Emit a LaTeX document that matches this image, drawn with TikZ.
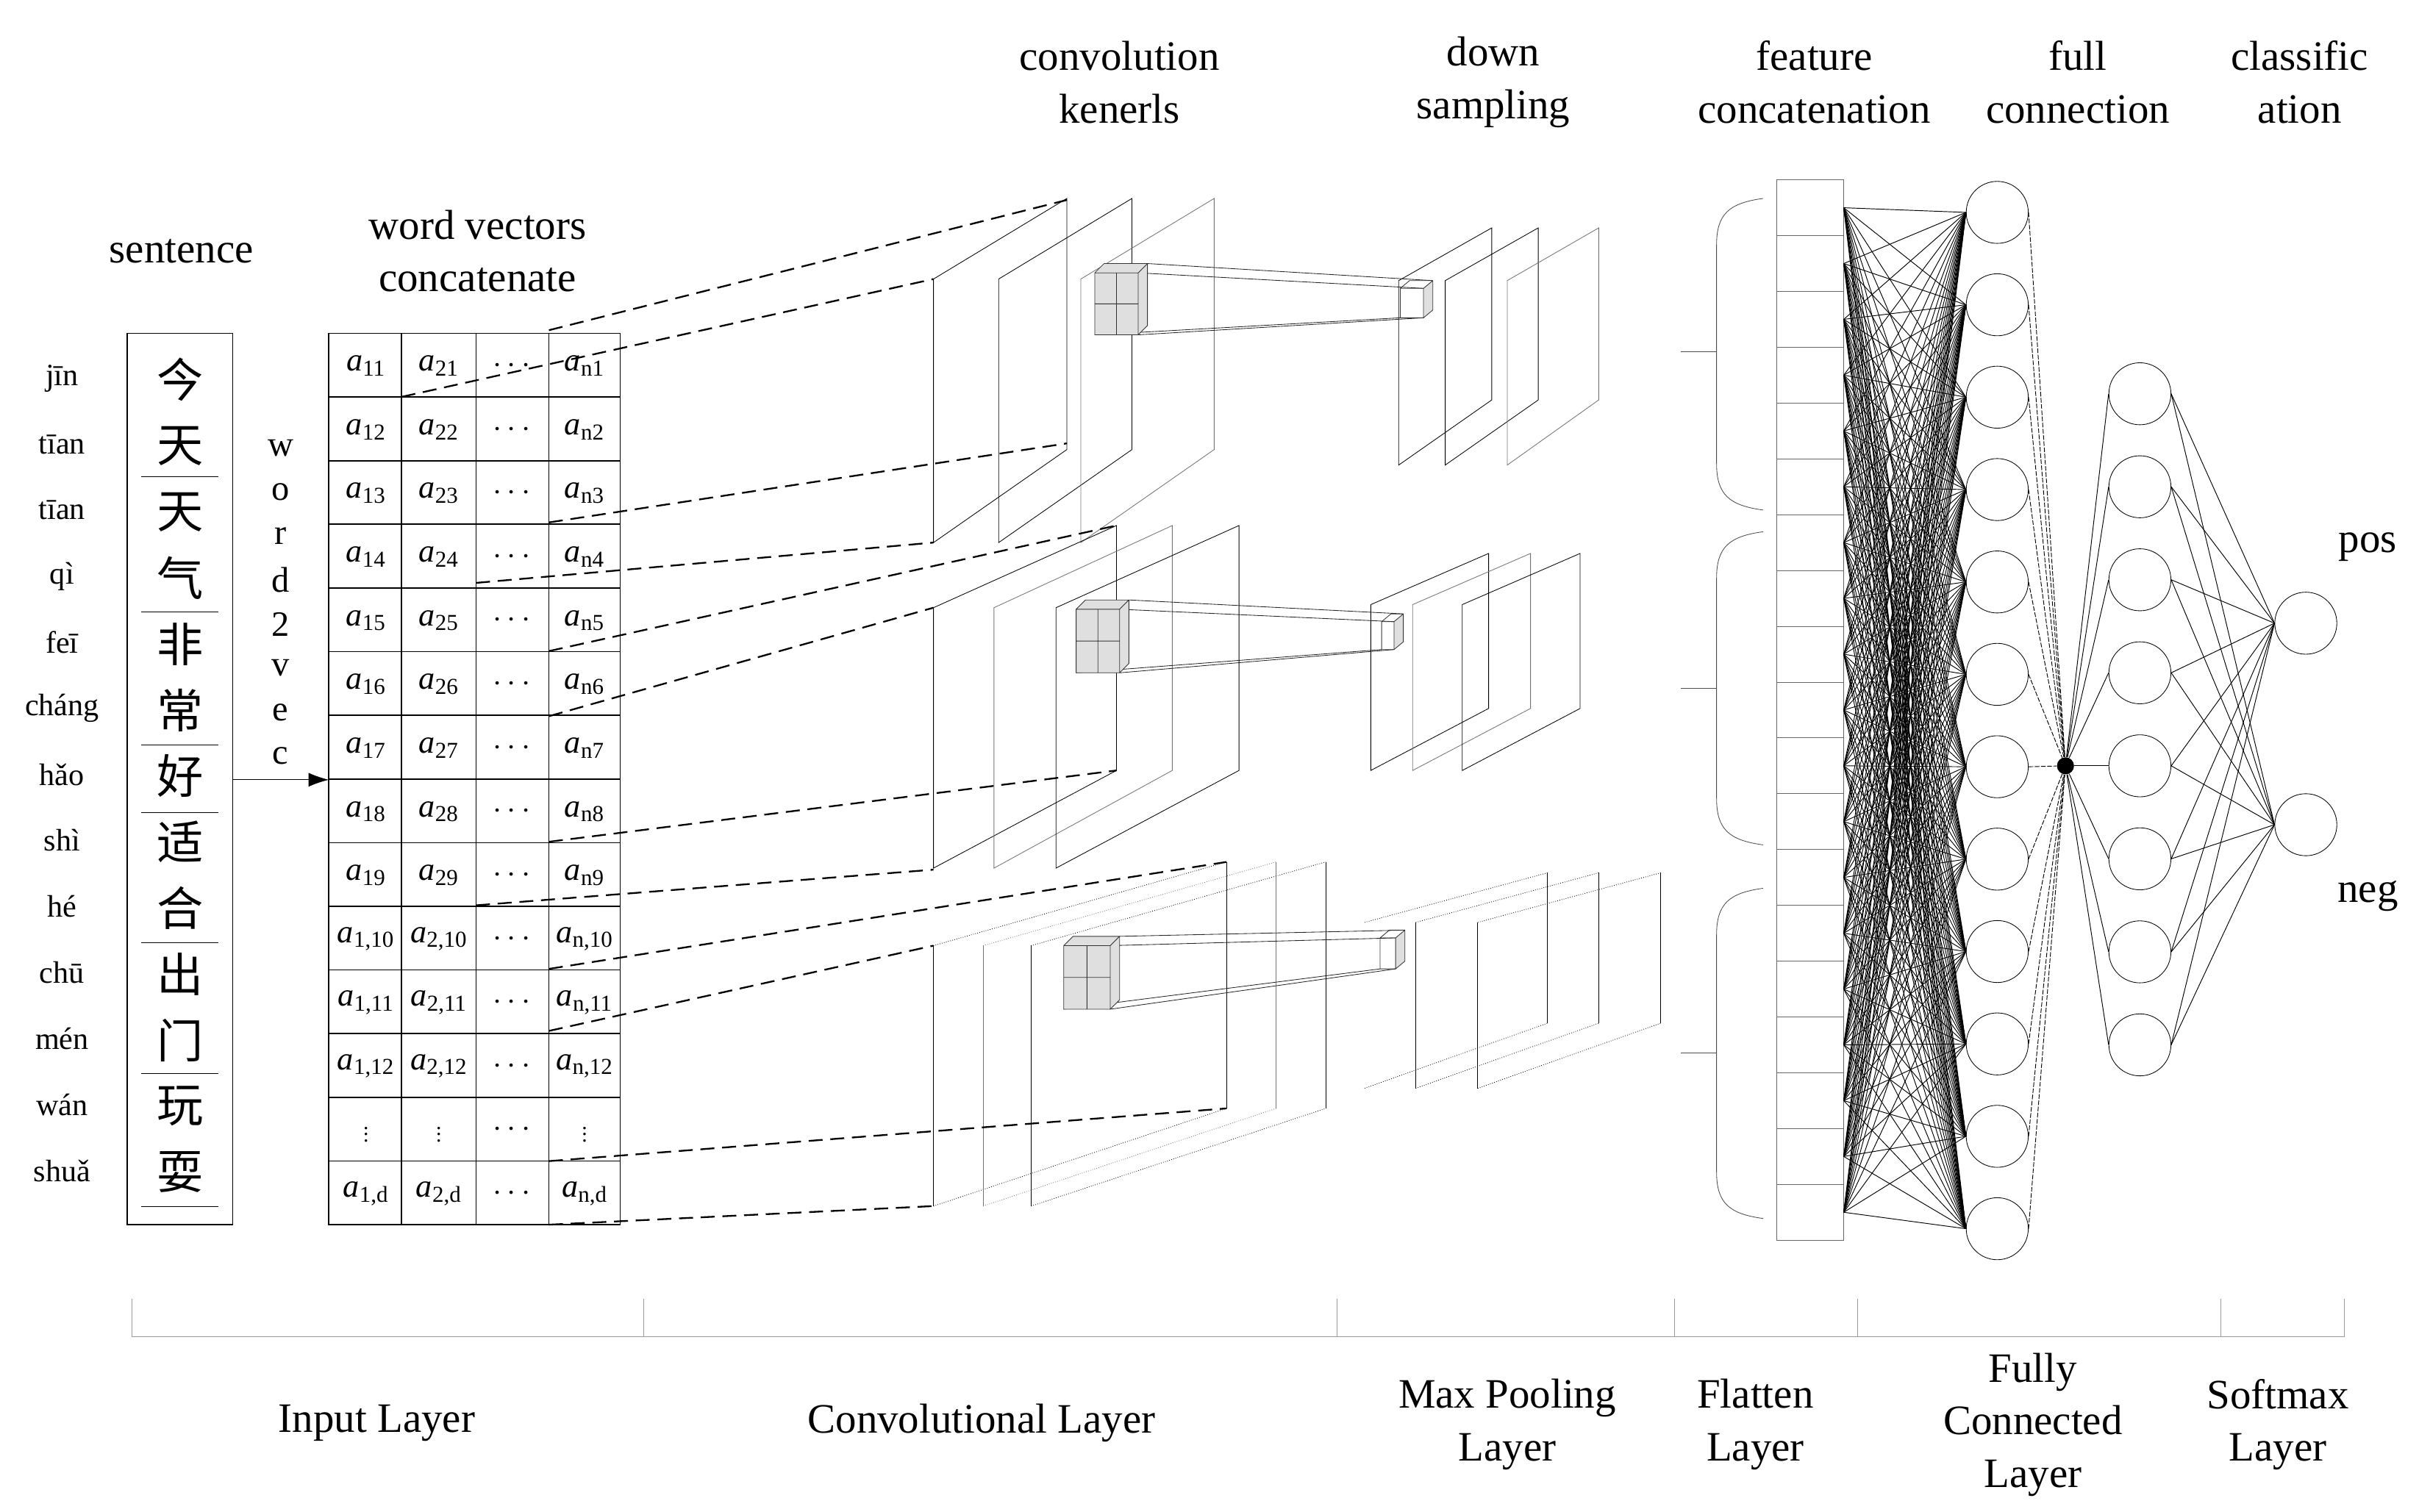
\documentclass[tikz,border=0pt]{standalone}
\usepackage{fontspec}
\setmainfont{Liberation Serif}
\newfontfamily\cjk{Noto Sans CJK SC}
\usetikzlibrary{arrows.meta}
\newcommand{\plane}[7][]{\draw[thin,#1] (#2,#3)--(#5,#6)--(#5,#7)--(#2,#4)--cycle;}
\newcommand{\dplane}[7][]{\draw[thin,#1] (#2,#3)--(#2,#4) (#5,#6)--(#5,#7);\draw[densely dotted,thin,#1] (#2,#3)--(#5,#6) (#2,#4)--(#5,#7);}
\newcommand{\kbox}[4]{%
 \fill[gray!25] (#1,#2+6)--(#1+6,#2)--(#3,#2)--(#3,#4-6)--(#3-6,#4)--(#1,#4)--cycle;
 \draw[black!80,thin] (#1,#2+6)--(#1+6,#2)--(#3,#2)--(#3,#4-6)--(#3-6,#4)--(#1,#4)--cycle
   (#1,#2+6)--(#3-6,#2+6)--(#3-6,#4) (#3-6,#2+6)--(#3,#2)
   ({(#1+#3)/2-3},#2+6)--({(#1+#3)/2-3},#4) (#1,{(#2+#4)/2+3})--(#3-6,{(#2+#4)/2+3});}
\newcommand{\cbox}[4]{%
 \fill[gray!25] (#3-6,#2+5)--(#3,#2)--(#3,#4-5)--(#3-6,#4)--cycle;
 \draw[black!80,thin] (#1,#2+5)--(#3-6,#2+5)--(#3-6,#4)--(#1,#4)--cycle
   (#1,#2+5)--(#1+6,#2)--(#3,#2)--(#3,#4-5)--(#3-6,#4) (#3-6,#2+5)--(#3,#2);}
\newcommand{\klines}[8]{\draw[black!85,thin] (#3,#2)--(#7,#6) (#3-6,#2+6)--(#7-6,#6+5) (#3-6,#4)--(#7-6,#8) (#1,#4)--(#5,#8);}
\tikzset{
 lbl/.style={font=\fontsize{27}{34}\selectfont,align=center},
 py/.style={font=\fontsize{20}{20}\selectfont,inner sep=0pt},
 wv/.style={font=\fontsize{23}{23}\selectfont,inner sep=0pt},
 hz/.style={font=\cjk\fontsize{30}{30}\selectfont,inner sep=0pt},
 mt/.style={font=\fontsize{21}{21}\selectfont,inner sep=0pt},
 dsh/.style={line width=1.1pt,dash pattern=on 9pt off 5pt},
 neu/.style={circle,draw,thin,minimum size=40pt,inner sep=0pt},
 con/.style={line width=0.45pt},
}
\begin{document}
\begin{tikzpicture}[x=1pt,y=-1pt]
\useasboundingbox (0,0) rectangle (1560,975);
\node[lbl] (t1) at (722,53) {convolution\\kenerls};
\node[lbl] (t2) at (963,53) {down\\sampling};
\node[lbl] (t3) at (1170,53) {feature\\concatenation};
\node[lbl] (t4) at (1340,53) {full\\connection};
\node[lbl] (t5) at (1483,53) {classific\\ation};
\node[lbl] (t6) at (117,162) {sentence};
\node[lbl] (t7) at (308,162) {word vectors\\concatenate};
\foreach \p [count=\k from 0] in {jīn,tīan,tīan,qì,feī,cháng,hǎo,shì,hé,chū,mén,wán,shuǎ}
  \node[py] (p\k) at (40,{244+\k*42.6}) {\p};
\foreach \c [count=\k from 0] in {今,天,天,气,非,常,好,适,合,出,门,玩,耍}
  \node[hz] (c\k) at (116,{245+\k*42.6}) {\c};
\draw[thick] (82,215) rectangle (150,790);
\foreach \y in {307.5,394.6,480.5,524.3,608.3,692.6,778.5} \draw[thin] (91,\y)--(141,\y);
\coordinate (arS) at (150,503);
\coordinate (arE) at (212,503);
\draw[-{Latex[length=13pt,width=9pt]}] (arS)--(arE);
\foreach \l [count=\k from 0] in {w,o,r,d,2,v,e,c}
  \node[wv] (w\k) at (181,{289+\k*28.4}) {\l};
\draw[thick] (212,215) rectangle (400,790);
\foreach \x in {259,307,354} \draw[thick] (\x,215)--(\x,790);
\foreach \r in {1,...,13} \draw[thick] (212,{215+\r*41.07})--(400,{215+\r*41.07});
\foreach \s [count=\r from 0] in {1,2,3,4,5,6,7,8,9}{
  \node[mt] at (236,{236+\r*41.07}) {\textit{a}\textsubscript{1\s}};
  \node[mt] at (283,{236+\r*41.07}) {\textit{a}\textsubscript{2\s}};
  \node[mt] at (330,{236+\r*41.07}) {$\cdots$};
  \node[mt] at (377,{236+\r*41.07}) {\textit{a}\textsubscript{n\s}};}
\foreach \s [count=\r from 9] in {10,11,12}{
  \node[mt] at (236,{236+\r*41.07}) {\textit{a}\textsubscript{1,\s}};
  \node[mt] at (283,{236+\r*41.07}) {\textit{a}\textsubscript{2,\s}};
  \node[mt] at (330,{236+\r*41.07}) {$\cdots$};
  \node[mt] at (377,{236+\r*41.07}) {\textit{a}\textsubscript{n,\s}};}
\foreach \x in {236,283,377} \node[mt,font=\fontsize{14}{14}\selectfont] at (\x,{236+12*41.07}) {$\vdots$};
\node[mt] at (330,{236+12*41.07}) {$\cdots$};
\node[mt] at (236,{236+13*41.07}) {\textit{a}\textsubscript{1,d}};
\node[mt] at (283,{236+13*41.07}) {\textit{a}\textsubscript{2,d}};
\node[mt] at (330,{236+13*41.07}) {$\cdots$};
\node[mt] at (377,{236+13*41.07}) {\textit{a}\textsubscript{n,d}};
\plane{602}{180}{350}{688}{128}{290}
\plane{644}{180}{350}{730}{128}{290}
\plane[black!55]{697}{180}{350}{783}{128}{290}
\plane{602}{392}{560}{720}{339}{497}
\plane[black!55]{641}{392}{560}{756}{339}{497}
\plane{681}{392}{560}{799}{339}{497}
\dplane{602}{610}{778}{791}{556}{715}
\dplane[black!55]{634}{610}{778}{823}{556}{715}
\dplane{665}{610}{778}{855}{556}{715}
\foreach \a/\b/\c/\d in {354/213/688/129, 259/256/602/180, 354/337/688/286, 307/376/602/350,
  354/420/720/339, 354/462/602/392, 354/543/720/497, 307/584/602/561,
  354/625/791/556, 354/665/602/610, 354/749/791/715, 354/790/602/778}
  \draw[dsh] (\a,\b)--(\c,\d);
\plane{902}{181}{300}{962}{147}{258}
\plane{932}{181}{300}{992}{147}{258}
\plane[black!55]{972}{181}{300}{1031}{147}{258}
\plane{884}{390}{497}{960}{357}{457}
\plane[black!55]{911}{390}{497}{987}{357}{457}
\plane{943}{390}{497}{1019}{357}{457}
\draw[densely dotted,thin] (880,595)--(998,563) (880,702)--(998,660);
\draw[thin] (998,563)--(998,660);
\dplane{913}{595}{702}{1031}{563}{660}
\dplane{953}{595}{702}{1071}{563}{660}
\klines{706}{170}{740}{216}{903}{181}{924}{205}
\kbox{706}{170}{740}{216}\cbox{903}{181}{924}{205}
\klines{694}{387}{728}{434}{891}{396}{905}{419}
\kbox{694}{387}{728}{434}\cbox{891}{396}{905}{419}
\klines{686}{604}{722}{651}{890}{600}{906}{625}
\kbox{686}{604}{722}{651}\cbox{890}{600}{906}{625}
\foreach \a/\b/\m in {128/329/227, 343/545/444, 573/786/679}{
  \draw[thin,black!70] (1137,\a) .. controls (1115,\a+3) and (1107,\a+10) .. (1107,\a+30) -- (1107,\b-30) .. controls (1107,\b-10) and (1115,\b-3) .. (1137,\b);
  \draw[thin,black!70] (1084,\m)--(1107,\m);}
\draw[thin,black!60] (1146,116) rectangle (1189,800);
\foreach \i in {1,...,18} \draw[thin,black!60] (1146,{116+\i*36})--(1189,{116+\i*36});
\foreach \i in {1,...,19} \coordinate (f\i) at (1189,{116+(\i-0.5)*36});
\foreach \j in {1,...,12} \node[neu] (h\j) at (1288,{137+(\j-1)*59.6}) {};
\foreach \j in {1,...,8} \node[neu] (g\j) at (1380,{254+(\j-1)*60}) {};
\node[neu] (o1) at (1487,402) {};
\node[neu] (o2) at (1487,532) {};
\node[circle,fill,inner sep=0pt,minimum size=11pt] (dot) at (1332,494) {};
\foreach \i in {1,...,19} \foreach \j in {1,...,12} \draw[con] (f\i)--(h\j.west);
\foreach \j in {1,...,12} \draw[con,dash pattern=on 3pt off 1pt] (h\j.east)--(dot);
\foreach \j in {1,...,8} {\draw[con] (dot)--(g\j.west);
  \draw[con] (g\j.east)--(o1.west); \draw[con] (g\j.east)--(o2.west);}
\node[lbl] (pos) at (1527,353) {pos};
\node[lbl] (neg) at (1527,578) {neg};
\draw[black!40,thin] (85,862)--(1512,862);
\foreach \x in {85,415,862,1080,1198,1432,1512} \draw[black!40,thin] (\x,838)--(\x,862);
\node[lbl] (b1) at (243,918) {Input Layer};
\node[lbl] (b2) at (633,918) {Convolutional Layer};
\node[lbl] (b3) at (972,919) {Max Pooling\\Layer};
\node[lbl] (b4) at (1132,919) {Flatten\\Layer};
\node[lbl] (b5) at (1311,919) {Fully\\Connected\\Layer};
\node[lbl] (b6) at (1469,919) {Softmax\\Layer};
\end{tikzpicture}
\end{document}
